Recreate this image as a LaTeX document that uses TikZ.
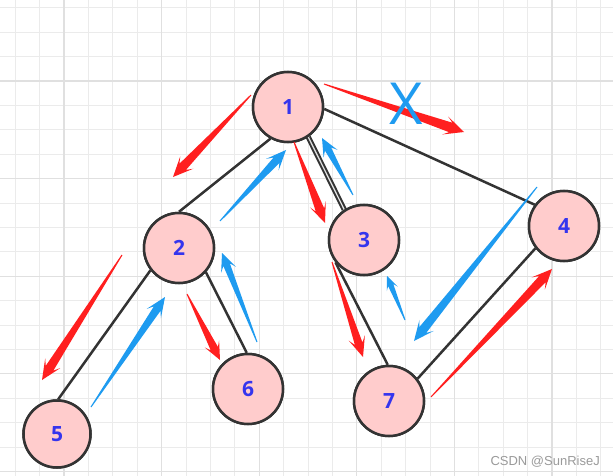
\documentclass[tikz,border=0pt]{standalone}
\usepackage{fontspec}
\setmainfont{Open Sans}
\newfontfamily\wmfont{Liberation Sans}
\usetikzlibrary{calc}
\definecolor{nodefill}{HTML}{FFCCCC}
\definecolor{edgec}{HTML}{333333}
\definecolor{lbl}{HTML}{3535EE}
\definecolor{ared}{HTML}{FF1F1F}
\definecolor{ablue}{HTML}{1E9BF0}
\definecolor{gridminor}{HTML}{EBEBEB}
\definecolor{gridmajor}{HTML}{E0E0E0}
\definecolor{wmgray}{HTML}{9A9A9A}
% tapered arrow: colour, tail, tip, head length, head half width, shaft half width
\newcommand\fatarrow[6]{%
  \pgfmathsetmacro\fanotch{0.7*#4}%
  \coordinate (fa-b) at ($(#3)!#4pt!(#2)$);
  \coordinate (fa-s) at ($(#3)!\fanotch pt!(#2)$);
  \fill[#1] ($(#2)!0.5pt!90:(#3)$) -- ($(fa-s)!#6pt!90:(#3)$) -- ($(fa-b)!#5pt!90:(#3)$) -- (#3)
     -- ($(fa-b)!#5pt!-90:(#3)$) -- ($(fa-s)!#6pt!-90:(#3)$) -- ($(#2)!0.5pt!-90:(#3)$) -- cycle;
}
\begin{document}
\begin{tikzpicture}[x=1pt,y=-1pt,
  vert/.style={circle, draw=edgec, line width=2.5pt, fill=nodefill, minimum size=70pt,
    inner sep=0pt, font=\fontsize{21}{21}\selectfont\bfseries, text=lbl},
  edge/.style={draw=edgec, line width=2.5pt},
  dedge/.style={draw=edgec, line width=2pt, double=gray!25, double distance=1.3pt},
  minorline/.style={draw=gridminor, line width=1pt},
  majorline/.style={draw=gridmajor, line width=1.2pt}]
\useasboundingbox (0,0) rectangle (613,476);
\fill[white] (0,0) rectangle (613,476);
% grid
\foreach \i in {0,...,24} { \draw[minorline] ({15.2+24.4*\i},0) -- ({15.2+24.4*\i},476); }
\foreach \j in {0,...,19} { \draw[minorline] (0,{7.8+24.4*\j}) -- (613,{7.8+24.4*\j}); }
\foreach \i in {0,...,5} { \draw[majorline] ({64+97.6*\i},0) -- ({64+97.6*\i},476); }
\foreach \j in {0,...,4} { \draw[majorline] (0,{81+97.6*\j}) -- (613,{81+97.6*\j}); }
% node positions (placed first so edges can refer to them)
\node[vert] (n1) at (288,107) {1};
\node[vert] (n2) at (179,248) {2};
\node[vert] (n3) at (364,240) {3};
\node[vert] (n4) at (564,226) {4};
\node[vert, minimum size=67pt] (n5) at (57,434) {5};
\node[vert] (n6) at (248,389) {6};
\node[vert] (n7) at (389,401) {7};
% edges
\path[edge] (n1.241) -- (n2.90);
\path[edge] (n1.-3) -- (n4.144);
\path[dedge] (n1.-56) -- (n3.123);
\path[edge] (n3.218) -- (n7.92);
\path[edge] (n4.218) -- (n7.38);
\path[edge] (n2.218) -- (n5.88);
\path[edge] (n2.-42) -- (n6.92);
% nodes again, above the edges
\node[vert] at (n1) {1};
\node[vert] at (n2) {2};
\node[vert] at (n3) {3};
\node[vert] at (n4) {4};
\node[vert, minimum size=67pt] at (n5) {5};
\node[vert] at (n6) {6};
\node[vert] at (n7) {7};
% arrow end points
\coordinate (r1a) at (251,95);  \coordinate (r1b) at (173,177);
\coordinate (r2a) at (324,84);  \coordinate (r2b) at (464,132);
\coordinate (r3a) at (294,142); \coordinate (r3b) at (325,223);
\coordinate (r4a) at (332,262); \coordinate (r4b) at (363,357);
\coordinate (r5a) at (122,255); \coordinate (r5b) at (42,380);
\coordinate (r6a) at (187,294); \coordinate (r6b) at (220,360);
\coordinate (r7a) at (431,397); \coordinate (r7b) at (552,269);
\coordinate (b1a) at (220,221); \coordinate (b1b) at (286,150);
\coordinate (b2a) at (353,195); \coordinate (b2b) at (322,138);
\coordinate (b3a) at (91,407);  \coordinate (b3b) at (165,297);
\coordinate (b4a) at (257,342); \coordinate (b4b) at (222,253);
\coordinate (b5a) at (405,320); \coordinate (b5b) at (387,276);
\coordinate (b6a) at (537,187); \coordinate (b6b) at (414,341);
% red arrows
\fatarrow{ared}{r1a}{r1b}{20}{9}{4.5}
\fatarrow{ared}{r2a}{r2b}{20}{9.5}{5}
\fatarrow{ared}{r3a}{r3b}{20}{8.5}{4.5}
\fatarrow{ared}{r4a}{r4b}{20}{8.5}{4}
\fatarrow{ared}{r5a}{r5b}{20}{9}{4.5}
\fatarrow{ared}{r6a}{r6b}{18}{8}{4}
\fatarrow{ared}{r7a}{r7b}{20}{9}{4.5}
% blue arrows
\fatarrow{ablue}{b1a}{b1b}{20}{8.5}{4}
\fatarrow{ablue}{b2a}{b2b}{18}{8}{3.5}
\fatarrow{ablue}{b3a}{b3b}{20}{8.5}{4}
\fatarrow{ablue}{b4a}{b4b}{18}{8}{3.5}
\fatarrow{ablue}{b5a}{b5b}{14}{6}{2.8}
\fatarrow{ablue}{b6a}{b6b}{20}{9}{4.5}
% cross mark
\node[text=ablue, font=\fontsize{58}{58}\selectfont, inner sep=0pt] (xmark) at (406,104) {X};
% watermark
\node[text=wmgray, font=\wmfont\fontsize{13}{13}\selectfont, inner sep=0pt, anchor=east] (wm) at (600,462) {CSDN @SunRiseJ};
\end{tikzpicture}
\end{document}
